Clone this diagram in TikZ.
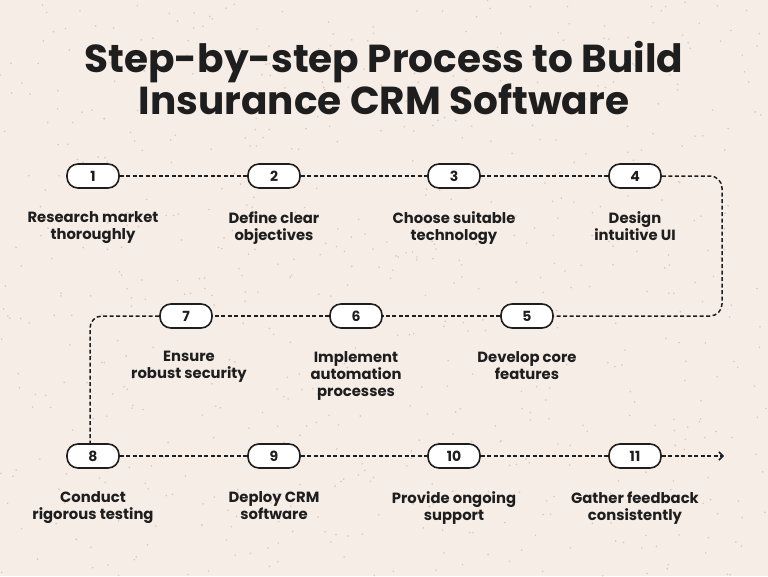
\documentclass[tikz,border=0pt]{standalone}
\usepackage{fontspec}
\setmainfont{Poppins}
\usetikzlibrary{arrows.meta}
\definecolor{bg}{HTML}{F6EDE7}
\definecolor{ink}{HTML}{1E1E1E}
\definecolor{dot}{HTML}{D9C8BC}
\tikzset{
  pill/.style={draw=ink, line width=1.6pt, fill=white, rounded corners=11pt, minimum width=52pt, minimum height=24pt, inner sep=0pt, font=\fontsize{14}{16}\selectfont\bfseries, text=ink},
  lbl/.style={align=center, font=\fontsize{14.8}{17}\selectfont\bfseries, text=ink, anchor=north},
  conn/.style={draw=ink, line width=1.5pt, dashed, dash pattern=on 4pt off 2.5pt, rounded corners=12pt}
}
\begin{document}
\begin{tikzpicture}[x=1pt,y=-1pt]
\fill[bg] (0,0) rectangle (768,576);
\useasboundingbox (0,0) rectangle (768,576);
\pgfmathsetseed{7}
\foreach \i in {1,...,700}{
  \fill[dot] (rnd*768, rnd*576) circle (0.9pt);
}
\node[font=\fontsize{39}{40}\selectfont\bfseries, text=ink, align=center] (title) at (384,78) {Step-by-step Process to Build\\Insurance CRM Software};
\coordinate (c4r) at (722,176);
\coordinate (c5r) at (722,316);
\coordinate (c7l) at (90,316);
\coordinate (end) at (724,456);
\node[pill] (n1) at (93,176) {1};
\node[pill] (n2) at (274,176) {2};
\node[pill] (n3) at (454,176) {3};
\node[pill] (n4) at (635,176) {4};
\node[pill] (n5) at (527,316) {5};
\node[pill] (n6) at (356,316) {6};
\node[pill] (n7) at (186,316) {7};
\node[pill] (n8) at (93,456) {8};
\node[pill] (n9) at (274,456) {9};
\node[pill] (n10) at (454,456) {10};
\node[pill] (n11) at (635,456) {11};
\draw[conn] (n1) -- (n2);
\draw[conn] (n2) -- (n3);
\draw[conn] (n3) -- (n4);
\draw[conn] (n4.east) -- (c4r) -- (c5r) -- (n5.east);
\draw[conn] (n5) -- (n6);
\draw[conn] (n6) -- (n7);
\draw[conn] (n7.west) -- (c7l) -- (n8.north -| c7l);
\draw[conn] (n8) -- (n9);
\draw[conn] (n9) -- (n10);
\draw[conn] (n10) -- (n11);
\draw[conn, -{Straight Barb[length=4pt,width=8pt]}] (n11.east) -- (end);
\node[lbl] (l1) at (93,208) {Research market\\thoroughly};
\node[lbl] (l2) at (274,208) {Define clear\\objectives};
\node[lbl] (l3) at (454,208) {Choose suitable\\technology};
\node[lbl] (l4) at (635,208) {Design\\intuitive UI};
\node[lbl] (l5) at (527,348) {Develop core\\features};
\node[lbl] (l6) at (356,348) {Implement\\automation\\processes};
\node[lbl] (l7) at (189,348) {Ensure\\robust security};
\node[lbl] (l8) at (93,488) {Conduct\\rigorous testing};
\node[lbl] (l9) at (274,488) {Deploy CRM\\software};
\node[lbl] (l10) at (454,488) {Provide ongoing\\support};
\node[lbl] (l11) at (635,488) {Gather feedback\\consistently};
\end{tikzpicture}
\end{document}
